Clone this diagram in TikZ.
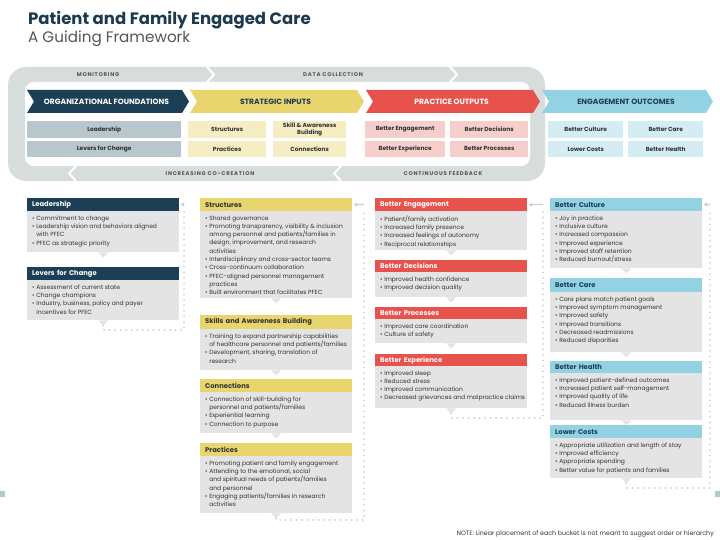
\documentclass[tikz,border=0pt]{standalone}
\usepackage{fontspec}
\setmainfont{Poppins}
\newfontfamily\spaced[LetterSpace=14]{Poppins}
\usetikzlibrary{calc,arrows.meta}
\definecolor{navy}{HTML}{1C3F55}
\definecolor{ttl}{HTML}{1B3A4B}
\definecolor{yel}{HTML}{E9D56E}
\definecolor{lyel}{HTML}{F5EDC4}
\definecolor{red}{HTML}{E8524C}
\definecolor{lpink}{HTML}{F6CFCC}
\definecolor{blu}{HTML}{93D2E3}
\definecolor{lblu}{HTML}{D4ECF4}
\definecolor{slate}{HTML}{B8C6CE}
\definecolor{band}{HTML}{D7DDDC}
\definecolor{bodyg}{HTML}{E4E4E4}
\definecolor{dotg}{HTML}{C6CDCD}
\definecolor{txt}{HTML}{333333}
\definecolor{sub}{HTML}{555555}
\definecolor{sq}{HTML}{A9CFCD}
\newcommand{\bu}{\textbullet\ }
\newcommand{\cn}{\phantom{\textbullet\ }}
\tikzset{
  hdr/.style={anchor=north west, inner xsep=5pt, inner ysep=0pt, text width=142pt, align=left,
    font=\bfseries\fontsize{6.8}{7.5}\selectfont},
  bodybox/.style={anchor=north west, fill=bodyg, minimum width=152pt, inner sep=0pt},
  bodytext/.style={anchor=north west, inner sep=0pt, align=left, text=txt,
    font=\fontsize{6.0}{8.3}\selectfont},
  topbox/.style={anchor=north west, inner sep=0pt, align=center, text=txt,
    font=\bfseries\fontsize{5.9}{6.3}\selectfont},
  chevtext/.style={text=white, font=\bfseries\fontsize{7.6}{8}\selectfont},
  bandtext/.style={text=sub, font=\spaced\bfseries\fontsize{5.4}{6}\selectfont},
  dots/.style={dotg, line width=1.8pt, dash pattern=on 0pt off 5.5pt, line cap=round},
  arr/.style={dotg, line width=1.2pt, -{Stealth[length=3.5pt,width=4.5pt]}, shorten >=1.5pt}
}
% name, x, ytop, yhdrbottom, ybottom, header style, title, body
\newcommand{\cbox}[8]{%
  \node[hdr,#6,minimum height={#4-#3}] (#1h) at (#2,#3) {#7};
  \node[bodybox,minimum height={#5-#4}] (#1b) at (#2,#4) {};
  \node[bodytext] (#1t) at ([xshift=5pt,yshift=-4.4pt]#1b.north west) {#8};
  \fill[bodyg] ([xshift=-5pt]#1b.south) -- ([xshift=5pt]#1b.south) -- ([yshift=-5pt]#1b.south) -- cycle;
  \coordinate (#1v) at ([yshift=-5pt]#1b.south);
}
% name, x0, x1, fill, text colour, label
\newcommand{\chev}[6]{%
  \fill[#4] (#2,90) -- (#3,90) -- ({#3+7},101.5) -- (#3,113) -- (#2,113) -- ({#2+7},101.5) -- cycle;
  \node[chevtext, text=#5] (#1) at ({(#2+#3)/2+2},101.5) {#6};
}
\begin{document}
\begin{tikzpicture}[x=1pt,y=-1pt]
\useasboundingbox (0,0) rectangle (720,540);
% title
\node[anchor=base west, inner sep=0pt, text=ttl, font=\bfseries\fontsize{16.5}{18}\selectfont] (title) at (28,25) {Patient and Family Engaged Care};
\node[anchor=base west, inner sep=0pt, text=sub, font=\fontsize{15.2}{17}\selectfont] (subtitle) at (28,43) {A Guiding Framework};
% band
\fill[band, rounded corners=18pt] (8,67) rectangle (545,181);
\fill[white, rounded corners=9pt] (25,82) rectangle (530,166);
\draw[white, line width=2pt] (207,67) -- (214,74.5) -- (207,82);
\draw[white, line width=2pt] (450,67) -- (457,74.5) -- (450,82);
\draw[white, line width=2pt] (76,166) -- (69,173.5) -- (76,181);
\draw[white, line width=2pt] (341,166) -- (334,173.5) -- (341,181);
\node[bandtext] (mon) at (98,74.5) {MONITORING};
\node[bandtext] (dc) at (333,74.5) {DATA COLLECTION};
\node[bandtext] (icc) at (210,173.5) {INCREASING CO-CREATION};
\node[bandtext] (cf) at (443,173.5) {CONTINUOUS FEEDBACK};
% chevrons
\chev{orgf}{27}{182}{navy}{white}{ORGANIZATIONAL FOUNDATIONS}
\chev{stin}{190}{357}{yel}{navy}{STRATEGIC INPUTS}
\chev{prou}{366}{533}{red}{white}{PRACTICE OUTPUTS}
\chev{enou}{542}{706}{blu}{navy}{ENGAGEMENT OUTCOMES}
% top boxes
\node[topbox, fill=slate, minimum width=154pt, minimum height=16.5pt] (tlead) at (27,121) {Leadership};
\node[topbox, fill=slate, minimum width=154pt, minimum height=16.5pt] (tlev) at (27,140.5) {Levers for Change};
\node[topbox, fill=lyel, minimum width=78pt, minimum height=16.5pt] (tstr) at (188,121) {Structures};
\node[topbox, fill=lyel, minimum width=73pt, minimum height=16.5pt] (tski) at (273,121) {Skill \& Awareness\\Building};
\node[topbox, fill=lyel, minimum width=78pt, minimum height=16.5pt] (tpra) at (188,140.5) {Practices};
\node[topbox, fill=lyel, minimum width=73pt, minimum height=16.5pt] (tcon) at (273,140.5) {Connections};
\node[topbox, fill=lpink, minimum width=80pt, minimum height=16.5pt] (teng) at (365,121) {Better Engagement};
\node[topbox, fill=lpink, minimum width=78pt, minimum height=16.5pt] (tdec) at (450,121) {Better Decisions};
\node[topbox, fill=lpink, minimum width=80pt, minimum height=16.5pt] (texp) at (365,140.5) {Better Experience};
\node[topbox, fill=lpink, minimum width=78pt, minimum height=16.5pt] (tproc) at (450,140.5) {Better Processes};
\node[topbox, fill=lblu, minimum width=75pt, minimum height=16.5pt] (tcul) at (548,121) {Better Culture};
\node[topbox, fill=lblu, minimum width=75pt, minimum height=16.5pt] (tcare) at (628,121) {Better Care};
\node[topbox, fill=lblu, minimum width=75pt, minimum height=16.5pt] (tlow) at (548,140.5) {Lower Costs};
\node[topbox, fill=lblu, minimum width=75pt, minimum height=16.5pt] (thea) at (628,140.5) {Better Health};
% column 1
\cbox{lead}{27}{198}{211}{252}{fill=navy,text=white}{Leadership}{\bu Commitment to change\\ \bu Leadership vision and behaviors aligned\\ \cn with PFEC\\ \bu PFEC as strategic priority}
\cbox{lev}{27}{267}{280}{320}{fill=navy,text=white}{Levers for Change}{\bu Assessment of current state\\ \bu Change champions\\ \bu Industry, business, policy and payer\\ \cn incentives for PFEC}
% column 2
\cbox{str}{200}{198}{211}{298}{fill=yel,text=txt}{Structures}{\bu Shared governance\\ \bu Promoting transparency, visibility \& inclusion\\ \cn among personnel and patients/families in\\ \cn design, improvement, and research\\ \cn activities\\ \bu Interdisciplinary and cross-sector teams\\ \bu Cross-continuum collaboration\\ \bu PFEC-aligned personnel management\\ \cn practices\\ \bu Built environment that facilitates PFEC}
\cbox{ski}{200}{315}{329}{370}{fill=yel,text=txt}{Skills and Awareness Building}{\bu Training to expand partnership capabilities\\ \cn of healthcare personnel and patients/families\\ \bu Development, sharing, translation of\\ \cn research}
\cbox{con}{200}{379}{392}{433}{fill=yel,text=txt}{Connections}{\bu Connection of skill-building for\\ \cn personnel and patients/families\\ \bu Experiential learning\\ \bu Connection to purpose}
\cbox{pra}{200}{443}{456}{513}{fill=yel,text=txt}{Practices}{\bu Promoting patient and family engagement\\ \bu Attending to the emotional, social\\ \cn and spiritual needs of patients/families\\ \cn and personnel\\ \bu Engaging patients/families in research\\ \cn activities}
% column 3
\cbox{eng}{375}{198}{211}{250}{fill=red,text=white}{Better Engagement}{\bu Patient/family activation\\ \bu Increased family presence\\ \bu Increased feelings of autonomy\\ \bu Reciprocal relationships}
\cbox{dec}{375}{260}{272}{297}{fill=red,text=white}{Better Decisions}{\bu Improved health confidence\\ \bu Improved decision quality}
\cbox{proc}{375}{307}{319}{343}{fill=red,text=white}{Better Processes}{\bu Improved care coordination\\ \bu Culture of safety}
\cbox{exp}{375}{354}{366}{408}{fill=red,text=white}{Better Experience}{\bu Improved sleep\\ \bu Reduced stress\\ \bu Improved communication\\ \bu Decreased grievances and malpractice claims}
% column 4
\cbox{cul}{550}{198}{211}{268}{fill=blu,text=navy}{Better Culture}{\bu Joy in practice\\ \bu Inclusive culture\\ \bu Increased compassion\\ \bu Improved experience\\ \bu Improved staff retention\\ \bu Reduced burnout/stress}
\cbox{care}{550}{278}{292}{352}{fill=blu,text=navy}{Better Care}{\bu Care plans match patient goals\\ \bu Improved symptom management\\ \bu Improved safety\\ \bu Improved transitions\\ \bu Decreased readmissions\\ \bu Reduced disparities}
\cbox{hea}{550}{361}{373}{420}{fill=blu,text=navy}{Better Health}{\bu Improved patient-defined outcomes\\ \bu Increased patient self-management\\ \bu Improved quality of life\\ \bu Reduced illness burden}
\cbox{low}{550}{425}{438}{478}{fill=blu,text=navy}{Lower Costs}{\bu Appropriate utilization and length of stay\\ \bu Improved efficiency\\ \bu Appropriate spending\\ \bu Better value for patients and families}
% dotted feedback loops
\coordinate (d1b) at (184,330); \coordinate (d1t) at (184,204.5);
\coordinate (d2b) at (364,520); \coordinate (d2t) at (364,204.5);
\coordinate (d3b) at (543,418); \coordinate (d3t) at (543,204.5);
\coordinate (d4b) at (710,488); \coordinate (d4t) at (710,204.5);
\draw[dots] (levv) |- (d1b) -- ([yshift=-5pt]d1t);
\draw[dots] (prav) |- (d2b) -- ([yshift=-5pt]d2t);
\draw[dots] (expv) |- (d3b) -- ([yshift=-5pt]d3t);
\draw[dots] (lowv) |- (d4b) -- ([yshift=-5pt]d4t);
\draw[arr] (d1t) -- (leadh.east);
\draw[arr] (d2t) -- (strh.east);
\draw[arr] (d3t) -- (engh.east);
\draw[arr] (d4t) -- (culh.east);
% slide markers
\fill[sq] (0,491) rectangle (5,497);
\fill[sq] (715,491) rectangle (720,497);
% note
\node[anchor=base east, inner sep=0pt, text=txt, font=\fontsize{6.3}{7}\selectfont] (note) at (714,535) {NOTE: Linear placement of each bucket is not meant to suggest order or hierarchy};
\end{tikzpicture}
\end{document}
